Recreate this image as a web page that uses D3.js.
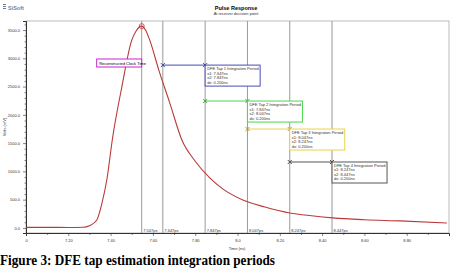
<!DOCTYPE html>
<html>
<head>
    <meta charset="utf-8">
    <script src="https://d3js.org/d3.v7.min.js"></script>
    <style>
      body { margin: 0; background: #fff; }
      text { font-family: "Liberation Sans", Arial, sans-serif; }
    </style>
</head>
<body>
    <script>
      // pulse response samples: time (ns), volts (mV)
      const pulseTime = [7.00, 7.10, 7.20, 7.27, 7.30, 7.335, 7.36, 7.382, 7.41, 7.453, 7.50, 7.52, 7.547,
                         7.565, 7.585, 7.628, 7.68, 7.737, 7.80, 7.87, 7.93, 8.025, 8.13, 8.247, 8.35, 8.451, 8.6, 8.768, 8.99];
      const pulseVolts = [10, 10, 8, 12, 40, 141, 450, 848, 1608, 2491, 3322, 3480, 3569,
                          3500, 3322, 2792, 2208, 1555, 1180, 880, 690, 495, 370, 265, 215, 177, 145, 124, 88];

      const xTickValues = [7.0, 7.2, 7.4, 7.6, 7.8, 8.0, 8.2, 8.4, 8.6, 8.8];
      const xTickLabels = ['0', '7.20', '7.40', '7.60', '7.80', '8.0', '8.20', '8.40', '8.60', '8.80'];
      const yTickValues = [0, 500, 1000, 1500, 2000, 2500, 3000, 3500];
      const yTickLabels = ['0.0', '500.0', '1000.0', '1500.0', '2000.0', '2500.0', '3000.0', '3500.0'];

      // clock time and DFE tap cursors
      const clockTime = 7.547;
      const clockLabel = '7.547ps';
      const cursorStart = [7.647, 7.847, 8.047, 8.247];
      const cursorEnd = [7.847, 8.047, 8.247, 8.447];
      const cursorLevel = [2880, 2244, 1749, 1166];
      const cursorNames = ['DFE Tap 1 Integration Period', 'DFE Tap 2 Integration Period',
                           'DFE Tap 3 Integration Period', 'DFE Tap 4 Integration Period'];
      const markerLabels = ['7.647ps', '7.847ps', '8.047ps', '8.247ps', '8.447ps'];
      const markerTimes = [7.647, 7.847, 8.047, 8.247, 8.447];
      const cursorColors = ['#4a4ab8', '#4cd64c', '#ecd24a', '#555555'];

      const width = 474, height = 270;
      const svg = d3.select('body').append('svg')
          .attr('width', width)
          .attr('height', height);

      const x = d3.scaleLinear().domain([7, 9]).range([26, 449]);
      const y = d3.scaleLinear().domain([-90, 3660]).range([233, 21]);

      // header
      const logo = svg.append('g').attr('fill', '#6a7fa6');
      [4, 6, 8].forEach(yy => logo.append('rect').attr('x', 3).attr('y', yy).attr('width', 3).attr('height', 1));
      logo.append('text').attr('x', 8).attr('y', 9.5).attr('font-size', 5.5).attr('font-weight', 'bold').text('SiSoft');

      svg.append('text').attr('x', 236).attr('y', 9.5).attr('text-anchor', 'middle')
          .attr('font-size', 5.5).attr('font-weight', 'bold').text('Pulse Response');
      svg.append('text').attr('x', 236).attr('y', 15).attr('text-anchor', 'middle')
          .attr('font-size', 4).attr('fill', '#333').text('At receiver decision point');

      // frame
      svg.append('rect').attr('x', 26).attr('y', 21).attr('width', 423).attr('height', 212)
          .attr('fill', 'none').attr('stroke', '#aaa').attr('stroke-width', 0.8);

      // vertical cursor lines
      svg.selectAll('.vline')
          .data([clockTime].concat(markerTimes))
          .enter().append('line')
          .attr('class', 'vline')
          .attr('x1', d => x(d)).attr('x2', d => x(d))
          .attr('y1', 21).attr('y2', 233)
          .attr('stroke', '#999').attr('stroke-width', 1);

      svg.selectAll('.vlabel')
          .data([clockLabel].concat(markerLabels))
          .enter().append('text')
          .attr('class', 'vlabel')
          .attr('x', (d, i) => x([clockTime].concat(markerTimes)[i]) + 1.5)
          .attr('y', 231.5)
          .attr('font-size', 4).attr('fill', '#333')
          .text(d => d);

      // axes
      const xAxis = d3.axisBottom(x).tickValues(xTickValues)
          .tickFormat((d, i) => xTickLabels[i]).tickSize(3);
      const gx = svg.append('g').attr('transform', 'translate(0,233)').call(xAxis);
      gx.selectAll('text').attr('font-size', 4).attr('fill', '#333');
      gx.select('.domain').attr('stroke', '#333');
      svg.append('g').attr('transform', 'translate(0,233)')
          .call(d3.axisBottom(x).tickValues(d3.range(7.1, 9, 0.2)).tickFormat('').tickSize(2))
          .select('.domain').remove();

      const yAxis = d3.axisLeft(y).tickValues(yTickValues)
          .tickFormat((d, i) => yTickLabels[i]).tickSize(3);
      const gy = svg.append('g').attr('transform', 'translate(26,0)').call(yAxis);
      gy.selectAll('text').attr('font-size', 4).attr('fill', '#333');
      gy.select('.domain').attr('stroke', '#333');
      svg.append('g').attr('transform', 'translate(26,0)')
          .call(d3.axisLeft(y).tickValues(d3.range(100, 3650, 100).filter(v => v % 500 !== 0)).tickFormat('').tickSize(1.5))
          .select('.domain').remove();

      svg.selectAll('.tick line').attr('stroke', '#333').attr('stroke-width', 0.6);

      svg.append('text').attr('x', 237).attr('y', 250).attr('text-anchor', 'middle')
          .attr('font-size', 4).attr('fill', '#333').text('Time (ns)');
      svg.append('text').attr('transform', 'translate(6,127) rotate(-90)').attr('text-anchor', 'middle')
          .attr('font-size', 4).attr('fill', '#333').text('Volts (mV)');

      // pulse curve
      const pulse = pulseTime.map((t, i) => ({t: t, v: pulseVolts[i]}));
      svg.append('path')
          .datum(pulse)
          .attr('fill', 'none')
          .attr('stroke', '#b83a3a')
          .attr('stroke-width', 1.1)
          .attr('d', d3.line().x(d => x(d.t)).y(d => y(d.v)).curve(d3.curveMonotoneX));

      const peak = pulse[d3.maxIndex(pulse, d => d.v)];
      svg.append('circle').attr('cx', x(peak.t)).attr('cy', y(peak.v)).attr('r', 2.5)
          .attr('fill', 'none').attr('stroke', '#b83a3a').attr('stroke-width', 0.8);

      // clock time label box
      const clk = svg.append('g');
      clk.append('rect').attr('x', x(clockTime) - 45).attr('y', 59).attr('width', 45).attr('height', 8)
          .attr('fill', '#fff').attr('stroke', '#cc22cc').attr('stroke-width', 1);
      clk.append('text').attr('x', x(clockTime) - 42.5).attr('y', 64.5).attr('font-size', 4)
          .text('Reconstructed Clock Time');

      // DFE tap cursors
      cursorStart.forEach((t1, i) => {
        const t2 = cursorEnd[i];
        const c = cursorColors[i];
        const yy = y(cursorLevel[i]);
        const g = svg.append('g');
        g.append('line').attr('x1', x(t1)).attr('x2', x(t2)).attr('y1', yy).attr('y2', yy)
            .attr('stroke', c).attr('stroke-width', 1);
        [t1, t2].forEach(t => {
          g.append('path').attr('d', `M${x(t) - 2},${yy - 2}L${x(t) + 2},${yy + 2}M${x(t) - 2},${yy + 2}L${x(t) + 2},${yy - 2}`)
              .attr('stroke', d3.color(c).darker(1)).attr('stroke-width', 0.9);
        });
        g.append('rect').attr('x', x(t2)).attr('y', yy).attr('width', 55).attr('height', 21)
            .attr('fill', '#fff').attr('stroke', c).attr('stroke-width', 1);
        const lines = [cursorNames[i], 'x1: ' + t1.toFixed(3) + 'ns', 'x2: ' + t2.toFixed(3) + 'ns',
                       'dx: ' + (t2 - t1).toFixed(3) + 'ns'];
        g.selectAll('text').data(lines).enter().append('text')
            .attr('x', x(t2) + 2).attr('y', (d, j) => yy + 5 + j * 4.5)
            .attr('font-size', 4).attr('fill', '#333').text(d => d);
      });

      // caption
      svg.append('text').attr('x', 0).attr('y', 265)
          .style('font-family', '"Liberation Serif", "Times New Roman", serif')
          .attr('font-weight', 'bold').attr('font-size', 14)
          .attr('textLength', 275).attr('lengthAdjust', 'spacingAndGlyphs')
          .text('Figure 3: DFE tap estimation integration periods');
    </script>
</body>
</html>
